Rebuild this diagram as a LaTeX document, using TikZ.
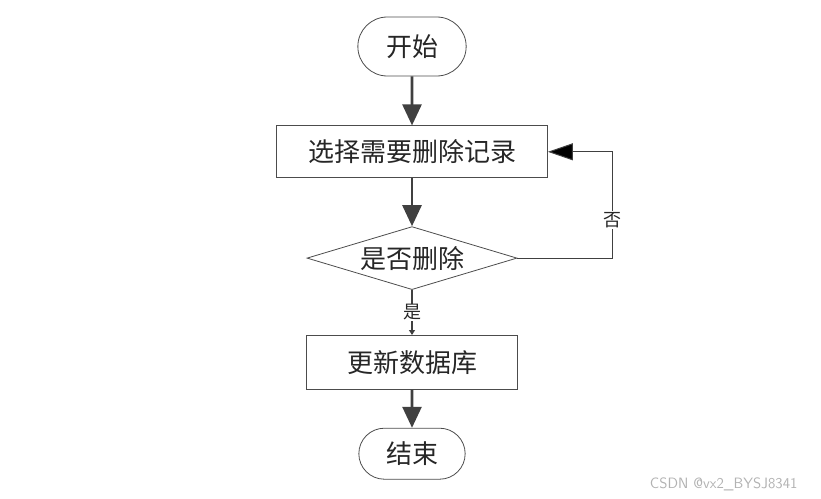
\documentclass[tikz,border=0pt]{standalone}
\usepackage{fontspec}
\newfontfamily\cjk{Noto Sans CJK SC}
\usetikzlibrary{shapes,positioning,arrows.meta}

\begin{document}
\begin{tikzpicture}[x=1pt,y=1pt,
            every node/.style={font=\cjk\fontsize{26}{30}\selectfont, text=black!85},
            term/.style={
                rounded rectangle, draw=black!70, line width=0.8pt,
                minimum width=115pt, minimum height=59pt},
            proc/.style={
                rectangle, draw=black!70, line width=0.8pt},
            decide/.style={
                diamond, draw=black!70, line width=0.8pt, shape aspect=3.3,
                inner sep=0pt, minimum width=210pt, minimum height=63pt},
            bigarrow/.style={draw=black!75, line width=2.6pt,
                -{Triangle[width=19pt,length=21pt]}},
            thinarrow/.style={draw=black!75, line width=1pt}]

            \useasboundingbox (0,0) rectangle (821,-498);

            \node [term] (s0) at (412,-46.5) {开始};
            \node [proc,below=49pt of s0,minimum width=271pt,minimum height=52pt] (p1) {选择需要删除记录};
            \node [decide,below=48pt of p1] (d1) {是否删除};
            \node [proc,below=45pt of d1,minimum width=211pt,minimum height=54pt] (p2) {更新数据库};
            \node [term,below=38pt of p2,minimum width=113pt,minimum height=51pt] (s1) {结束};

            \draw [bigarrow] (s0) -- (p1);
            \draw [bigarrow] (p1) -- (d1);
            \draw [thinarrow,line width=2pt,-{Triangle[width=6pt,length=5pt]}] (d1) --
                node [fill=white,inner sep=1pt,font=\cjk\fontsize{18}{21}\selectfont] {是} (p2);
            \draw [thinarrow,-{Triangle[width=17pt,length=25pt,fill=black]}] (d1.east) -- ++(95,0) |-
                node [pos=0.18,fill=white,inner sep=1pt,font=\cjk\fontsize{18}{21}\selectfont] {否} (p1.east);
            \draw [bigarrow] (p2) -- (s1);

            \node [anchor=east,text=black!30,font=\sffamily\fontsize{15}{17}\selectfont] (wm) at (801,-484) {CSDN @vx2\_BYSJ8341};

        \end{tikzpicture}
\end{document}
